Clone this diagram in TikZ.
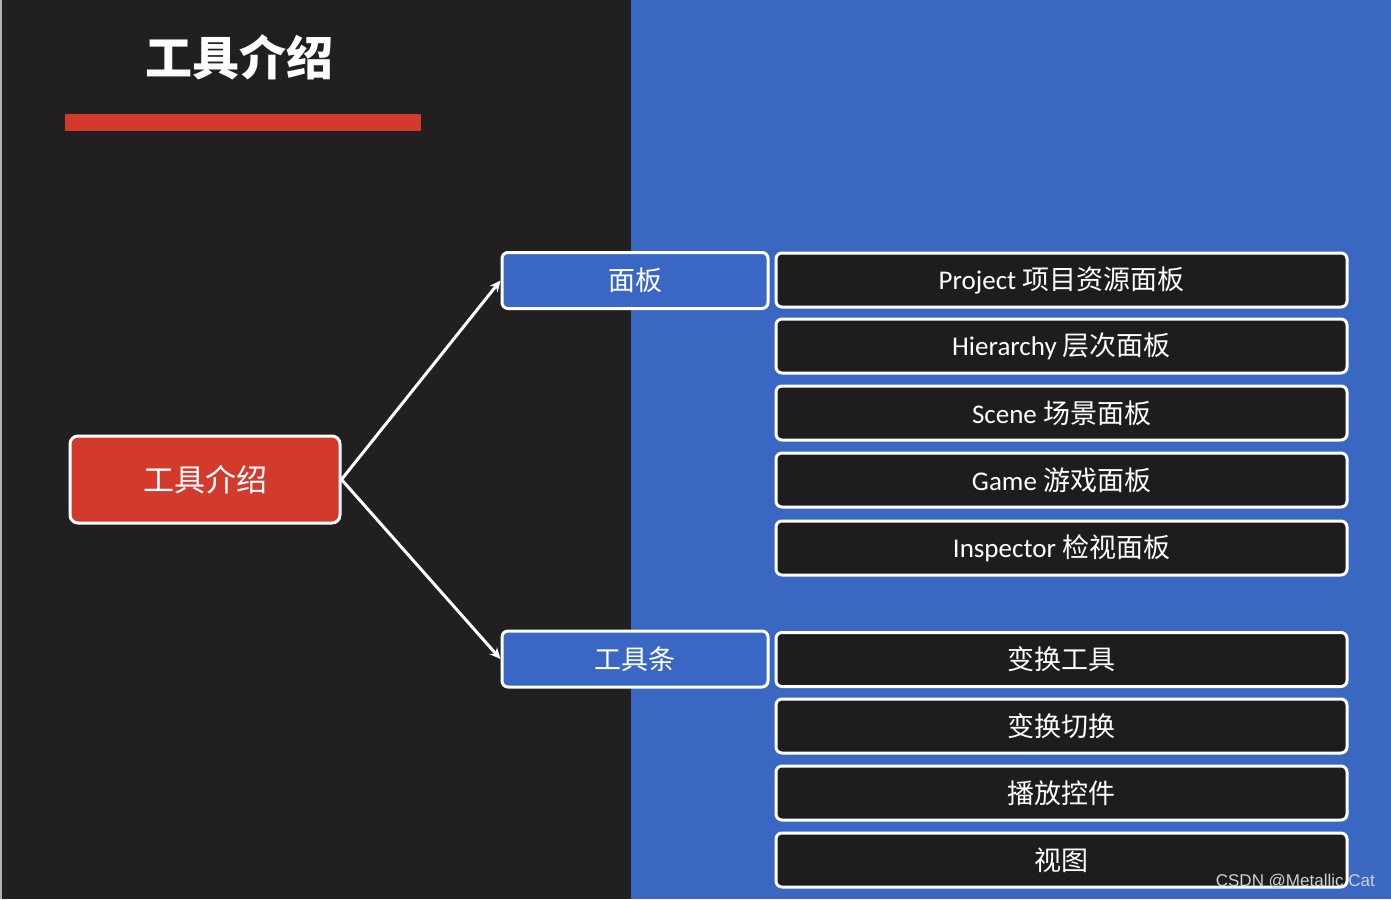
\documentclass[tikz,border=0pt]{standalone}
\usepackage{fontspec}
\setmainfont{Carlito}
\newfontfamily\cjk{Noto Sans CJK SC}
\newfontfamily\wm{Liberation Sans}
\usetikzlibrary{arrows.meta}
\definecolor{darkbg}{HTML}{221F20}
\definecolor{bluebg}{HTML}{3A67C2}
\definecolor{redc}{HTML}{D33A2C}
\definecolor{boxbg}{HTML}{1E1C1D}
\definecolor{bluebox}{HTML}{3A67C4}
\begin{document}
\begin{tikzpicture}[x=1pt,y=-1pt,
  rootbox/.style={draw=white,line width=3pt,fill=redc,rounded corners=8pt,minimum width=270pt,minimum height=87pt,inner sep=0pt,text=white,font=\fontsize{31}{33}\cjk},
  catbox/.style={draw=white,line width=3pt,fill=bluebox,rounded corners=6pt,minimum width=266pt,minimum height=56pt,inner sep=0pt,text=white,font=\fontsize{27}{29}\cjk},
  itembox/.style={draw=white,line width=3pt,fill=boxbg,rounded corners=6pt,minimum width=571pt,minimum height=54pt,inner sep=0pt,text=white,font=\fontsize{27}{29}\selectfont},
  conn/.style={draw=white,line width=3pt,-{Stealth[length=11pt,width=10pt]}}]
\useasboundingbox (0,0) rectangle (1391,899);
\fill[darkbg] (0,0) rectangle (631,899);
\fill[bluebg] (631,0) rectangle (1391,899);
\fill[gray!60] (0,0) rectangle (2,899);
% title
\node[text=white,font=\fontsize{47}{50}\cjk\bfseries] (title) at (239,57) {工具介绍};
\fill[redc] (65,114) rectangle (421,131);
% nodes
\node[rootbox] (root) at (205,479.5) {工具介绍};
\node[catbox] (panel) at (635,280.5) {面板};
\node[catbox] (tool) at (635,659) {工具条};
\node[itembox] (i1) at (1061.5,280) {Project {\cjk 项目资源面板}};
\node[itembox] (i2) at (1061.5,346) {Hierarchy {\cjk 层次面板}};
\node[itembox] (i3) at (1061.5,413) {Scene {\cjk 场景面板}};
\node[itembox] (i4) at (1061.5,480) {Game {\cjk 游戏面板}};
\node[itembox] (i5) at (1061.5,548) {Inspector {\cjk 检视面板}};
\node[itembox] (j1) at (1061.5,659.5) {\cjk 变换工具};
\node[itembox] (j2) at (1061.5,726) {\cjk 变换切换};
\node[itembox] (j3) at (1061.5,793) {\cjk 播放控件};
\node[itembox] (j4) at (1061.5,860) {\cjk 视图};
% connectors
\draw[conn] (root.east) -- (panel.west);
\draw[conn] (root.east) -- (tool.west);
% watermark
\node[anchor=east,text=gray!35,font=\fontsize{17}{19}\wm,inner sep=0pt] (wmk) at (1375,882) {CSDN @Metallic Cat};
\end{tikzpicture}
\end{document}
